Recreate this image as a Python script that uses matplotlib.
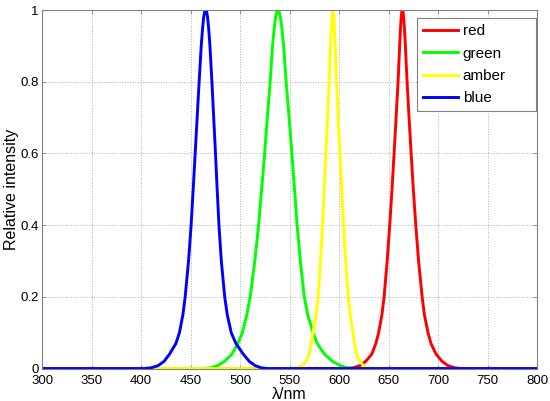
import matplotlib
matplotlib.use('Agg')
import matplotlib.pyplot as plt

# relative intensity levels (left flank, peak, right flank)
levels = [0, 0, 0.002, 0.008, 0.02, 0.04, 0.07, 0.1, 0.15, 0.2, 0.3, 0.4, 0.5, 0.6, 0.7, 0.8, 0.9, 0.95, 0.98, 0.995,
          1.0,
          0.995, 0.98, 0.95, 0.9, 0.8, 0.7, 0.6, 0.5, 0.4, 0.3, 0.2, 0.15, 0.1, 0.07, 0.04, 0.02, 0.008, 0.002, 0, 0]

# wavelengths (nm) where each curve passes those levels
red_nm = [300, 606.8, 613.8, 620.8, 626.8, 632.8, 637.0, 639.8, 643.1, 645.3, 648.4, 651.0, 653.3, 655.4, 657.4,
          659.4, 661.0, 661.9, 662.6, 663.2,
          663.8,
          664.4, 665.0, 665.8, 666.8, 668.5, 670.5, 672.6, 674.8, 677.3, 680.1, 683.7, 686.0, 689.6, 692.6,
          697.8, 703.8, 709.8, 716.8, 723.8, 800]
green_nm = [300, 462.2, 470.2, 477.2, 484.2, 491.7, 497.7, 502.2, 506.7, 510.1, 514.8, 518.6, 521.7, 524.7, 527.4,
            530.3, 532.7, 534.4, 535.8, 537.0,
            538.2,
            539.4, 540.6, 542.1, 543.9, 546.4, 549.4, 552.2, 554.9, 557.5, 560.8, 564.7, 568.2, 573.7, 577.7,
            585.2, 593.2, 601.2, 608.2, 616.2, 800]
amber_nm = [300, 548.6, 556.6, 562.6, 566.6, 569.6, 571.8, 573.7, 576.6, 578.8, 581.1, 583.2, 584.8, 586.5, 588.2,
            589.9, 591.3, 592.1, 592.7, 593.15,
            593.6,
            594.05, 594.5, 595.1, 595.9, 597.3, 599.0, 600.7, 602.6, 604.4, 606.5, 609.1, 611.2, 613.9, 615.4,
            617.4, 620.6, 624.6, 629.6, 637.6, 800]
blue_nm = [300, 403.2, 410.2, 417.2, 423.2, 428.7, 435.2, 438.7, 442.2, 444.5, 447.9, 450.5, 452.6, 454.6, 456.6,
           458.6, 460.7, 462.1, 463.2, 464.2,
           465.2,
           466.2, 467.1, 468.2, 469.5, 471.5, 473.3, 475.1, 476.8, 478.6, 481.0, 484.4, 487.0, 491.0, 495.7,
           503.2, 509.2, 515.2, 521.2, 527.2, 800]

series = [('red', red_nm, '#ff0000'),
          ('green', green_nm, '#00ff00'),
          ('amber', amber_nm, '#ffff00'),
          ('blue', blue_nm, '#0000ff')]

xticks = [300, 350, 400, 450, 500, 550, 600, 650, 700, 750, 800]
yticks = [0, 0.2, 0.4, 0.6, 0.8, 1]
ytick_labels = ['0', '0.2', '0.4', '0.6', '0.8', '1']

plt.rcParams['font.family'] = ['Liberation Sans', 'DejaVu Sans']

fig = plt.figure(figsize=(5.5, 4.01), dpi=100)
ax = fig.add_axes([0.0764, 0.081, 0.9006, 0.894])

for name, nm, col in series:
    ax.plot(nm, levels, color=col, lw=2.1, label=name)

ax.set_xlim(300, 800)
ax.set_ylim(0, 1)
ax.set_xticks(xticks)
ax.set_yticks(yticks)
ax.set_yticklabels(ytick_labels)
ax.tick_params(direction='in', length=3, width=0.6, colors='#808080', labelcolor='black',
               labelsize=9.5, top=True, right=True)
ax.tick_params(axis='x', pad=5)
ax.tick_params(axis='y', pad=2.5)
ax.grid(True, color='#b0b0b0', linestyle=':', linewidth=0.7)
for sp in ax.spines.values():
    sp.set_color('#808080')
    sp.set_linewidth(0.8)

ax.set_xlabel('λ/nm', fontsize=11.5, labelpad=0)
ax.set_ylabel('Relative intensity', fontsize=11.5, labelpad=0.5)

# legend box stretched to the width it has in the original
leg = ax.legend(loc='upper left', mode='expand', fontsize=11, fancybox=False, framealpha=1,
                edgecolor='#808080', handlelength=2.3, handletextpad=0.3, borderpad=0.4,
                labelspacing=0.55, borderaxespad=0,
                bbox_to_anchor=(0.757, 0.5, 0.2403, 0.4777))
leg.get_frame().set_linewidth(0.8)

fig.savefig('out.png', dpi=100)
